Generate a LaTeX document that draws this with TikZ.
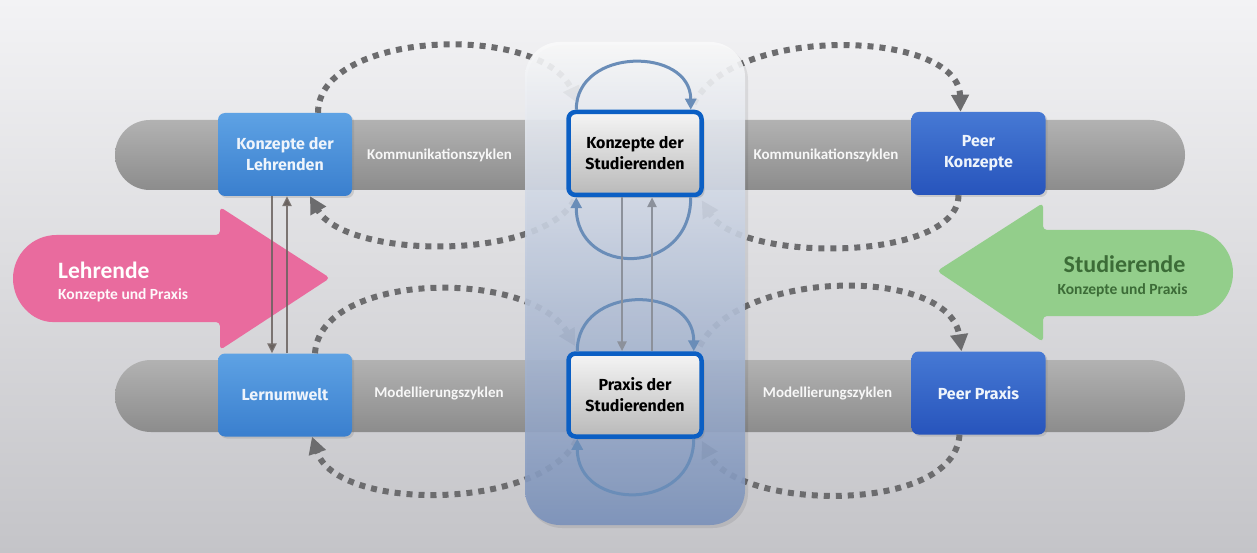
\documentclass[tikz,border=0pt]{standalone}
\usepackage{fontspec}
\setmainfont{Carlito}
\newfontfamily\boxfont{Fira Sans}
\usetikzlibrary{arrows.meta,shadows}
\definecolor{bgtop}{HTML}{F3F3F5}
\definecolor{bgbot}{HTML}{C4C4C8}
\definecolor{bartop}{HTML}{B2B2B2}
\definecolor{barbot}{HTML}{8C8C8C}
\definecolor{ltop}{HTML}{5EA2E4}
\definecolor{lbot}{HTML}{3A7FCE}
\definecolor{ptop}{HTML}{4679D4}
\definecolor{pbot}{HTML}{2754BC}
\definecolor{sborder}{HTML}{0B5FC4}
\definecolor{pink}{HTML}{E96B9E}
\definecolor{green}{HTML}{93CE8B}
\definecolor{dgreen}{HTML}{3C6C37}
\definecolor{dotgray}{HTML}{6C6C6E}
\definecolor{loopblue}{HTML}{6A8DB8}
\definecolor{vgray}{HTML}{6A625F}
\definecolor{cgray}{HTML}{8C919B}
\definecolor{panTop}{HTML}{FAFAFA}
\definecolor{panMid}{HTML}{D2D3D7}
\definecolor{panBot}{HTML}{7A91BA}
\definecolor{boxtext}{HTML}{EEF4FB}
\begin{document}
\begin{tikzpicture}[x=1pt,y=-1pt,
  boxlabel/.style={font=\boxfont\bfseries\fontsize{16}{21}\selectfont, align=center},
  lbox/.style={boxlabel, rectangle, rounded corners=7pt, minimum width=134pt, minimum height=83pt,
     top color=ltop, bottom color=lbot, text=boxtext,
     drop shadow={opacity=0.25, shadow xshift=2pt, shadow yshift=-2pt}},
  pbox/.style={lbox, top color=ptop, bottom color=pbot},
  sbox/.style={boxlabel, rectangle, rounded corners=7pt, minimum width=133pt, minimum height=83pt,
     top color=gray!8, bottom color=gray!55, draw=sborder, line width=4.5pt, text=black,
     drop shadow={opacity=0.3, shadow xshift=3pt, shadow yshift=-3pt}},
  ghost/.style={rectangle, minimum width=137.5pt, minimum height=87.5pt, outer sep=0pt, inner sep=0pt},
  cyclabel/.style={font=\bfseries\fontsize{15}{18}\selectfont, text=white!94!gray},
  dotarrow/.style={draw=dotgray, line width=6pt, dash pattern=on 6pt off 6pt,
     -{Triangle[length=17pt,width=17pt]}},
  loopline/.style={draw=loopblue, line width=3pt, -{Triangle[length=11pt,width=11pt]}},
  varrow/.style={draw=vgray, line width=2.5pt, draw opacity=0.85, -{Triangle[length=10pt,width=9pt]}},
  carrow/.style={draw=cgray, line width=2.5pt, -{Triangle[length=10pt,width=9pt]}}
]
\useasboundingbox (0,0) rectangle (1257,553);
\shade[top color=bgtop, bottom color=bgbot] (0,0) rectangle (1257,553);

% grey bars
\shade[top color=bartop, bottom color=barbot, rounded corners=34.9pt] (115,120) rectangle (1185,190);
\shade[top color=bartop, bottom color=barbot, rounded corners=35.9pt] (115,360) rectangle (1185,432);

% big arrows
\fill[pink, rounded corners=4pt] (56.5,235) -- (220,235) -- (220,207) -- (330,278) -- (220,350) -- (220,322) -- (56.5,322)
  [sharp corners] .. controls (32.5,322) and (13,302.5) .. (13,278.5) .. controls (13,254.5) and (32.5,235) .. (56.5,235) -- cycle;
\fill[green, rounded corners=4pt] (1190,230) -- (1043,230) -- (1043,203) -- (937,271) -- (1043,342) -- (1043,316) -- (1190,316)
  [sharp corners] .. controls (1214,316) and (1233,296.5) .. (1233,273) .. controls (1233,249.5) and (1214,230) .. (1190,230) -- cycle;
\node[anchor=base west, inner sep=0pt, text=white, font=\bfseries\fontsize{23.5}{26}\selectfont] (lt) at (58,278) {Lehrende};
\node[anchor=base west, inner sep=0pt, text=white!95!pink, font=\bfseries\fontsize{15.5}{17}\selectfont] (ls) at (58,299) {Konzepte und Praxis};
\node[anchor=base, inner sep=0pt, text=dgreen, font=\bfseries\fontsize{24}{26}\selectfont] (st) at (1124.5,272) {Studierende};
\node[anchor=base, inner sep=0pt, text=dgreen, font=\bfseries\fontsize{15.5}{17}\selectfont] (ss) at (1122.5,294) {Konzepte und Praxis};

% nodes
\node[lbox] (KL) at (285,154.5) {Konzepte der\\Lehrenden};
\node[lbox] (LU) at (285,395) {Lernumwelt};
\node[pbox] (PK) at (978.5,153.5) {Peer\\Konzepte};
\node[pbox] (PP) at (978.5,393) {Peer Praxis};
\node[ghost] (KSa) at (635,153.5) {};
\node[ghost] (PSa) at (635,395) {};

% cycle labels
\node[cyclabel] (k1) at (439.5,155) {Kommunikationszyklen};
\node[cyclabel] (k2) at (826,155) {Kommunikationszyklen};
\node[cyclabel] (m1) at (439,394) {Modellierungszyklen};
\node[cyclabel] (m2) at (827.5,394) {Modellierungszyklen};

% dotted connectors
\draw[dotarrow] ([xshift=33pt]KL.north) .. controls +(0,-82) and +(-38,-82) .. ([xshift=12pt,yshift=6pt]KSa.north west);
\draw[dotarrow] ([xshift=-10pt,yshift=6pt]KSa.north east) .. controls +(40,-80) and +(-2,-82) .. ([xshift=-18pt]PK.north);
\draw[dotarrow] ([xshift=-20pt]PK.south) .. controls +(0,67) and +(38,63) .. ([xshift=-2pt,yshift=-3pt]KSa.south east);
\draw[dotarrow] ([xshift=8pt,yshift=-3pt]KSa.south west) .. controls +(-35,62) and +(35,62) .. ([xshift=25pt]KL.south);
\draw[dotarrow] ([xshift=30pt]LU.north) .. controls +(5,-82) and +(-45,-78) .. ([xshift=9pt,yshift=5pt]PSa.north west);
\draw[dotarrow] ([xshift=-4pt,yshift=5pt]PSa.north east) .. controls +(40,-78) and +(-12,-85) .. ([xshift=-17pt]PP.north);
\draw[dotarrow] ([xshift=-19pt]PP.south) .. controls +(-5,80) and +(37,70) .. ([xshift=-2pt,yshift=-2pt]PSa.south east);
\draw[dotarrow] ([xshift=10pt,yshift=-2pt]PSa.south west) .. controls +(-37,70) and +(25,75) .. ([xshift=27pt]LU.south);

% vertical arrows left
\draw[varrow] ([xshift=-13pt]KL.south) -- ([xshift=-13pt]LU.north);
\draw[varrow] ([xshift=2pt]LU.north) -- ([xshift=2pt]KL.south);

% central panel
\fill[black, opacity=0.08, rounded corners=35pt] (527,45) rectangle (748,528);
\shade[rounded corners=35pt, top color=panTop, middle color=panMid, bottom color=panBot, opacity=0.9] (525,42) rectangle (745,525);

% central boxes
\node[sbox] (KS) at (635,153.5) {Konzepte der\\Studierenden};
\node[sbox] (PS) at (635,395) {Praxis der\\Studierenden};

% loops
\draw[loopline] ([xshift=10pt]KS.north west) .. controls +(0,-63) and +(0,-63) .. ([xshift=-13pt]KS.north east);
\draw[loopline] ([xshift=-13pt]KS.south east) .. controls +(0,80) and +(0,80) .. ([xshift=10pt]KS.south west);
\draw[loopline] ([xshift=11pt]PS.north west) .. controls +(0,-67) and +(0,-67) .. ([xshift=-10pt]PS.north east);
\draw[loopline] ([xshift=-10pt]PS.south east) .. controls +(0,73) and +(0,73) .. ([xshift=11pt]PS.south west);

% central vertical arrows
\draw[carrow] ([xshift=-13pt]KS.south) -- ([xshift=-13pt]PS.north);
\draw[carrow] ([xshift=17pt]PS.north) -- ([xshift=17pt]KS.south);
\end{tikzpicture}
\end{document}
